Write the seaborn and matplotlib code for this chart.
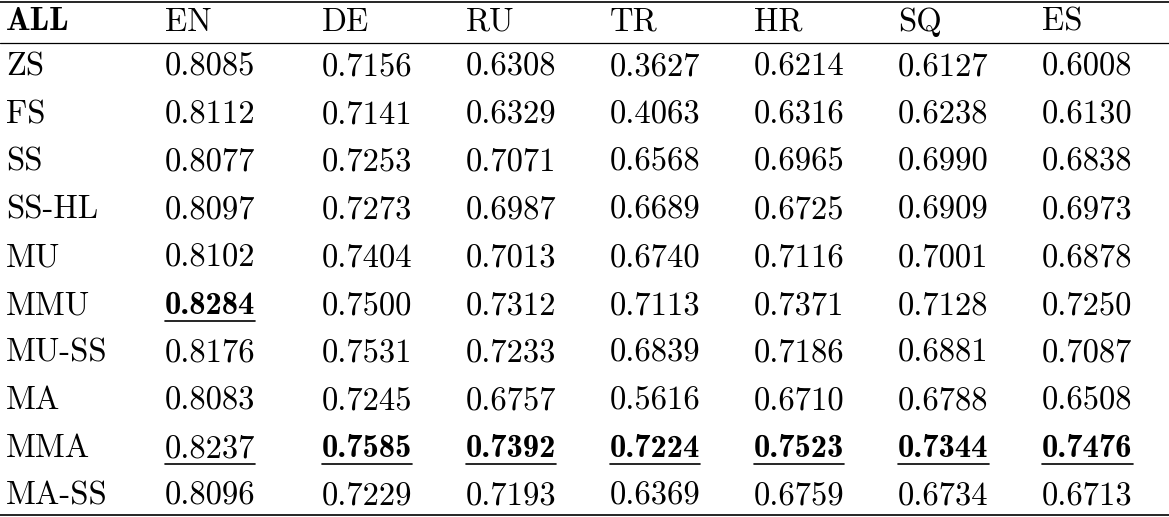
import matplotlib
matplotlib.use("Agg")
import matplotlib.pyplot as plt
import seaborn as sns

sns.set_theme(style="white")
plt.rcParams['font.family'] = ['cmr10', 'DejaVu Serif']

columns = ["EN", "DE", "RU", "TR", "HR", "SQ", "ES"]
methods = ["ZS", "FS", "SS", "SS-HL", "MU", "MMU", "MU-SS", "MA", "MMA", "MA-SS"]
scores = [
    [0.8085, 0.7156, 0.6308, 0.3627, 0.6214, 0.6127, 0.6008],
    [0.8112, 0.7141, 0.6329, 0.4063, 0.6316, 0.6238, 0.6130],
    [0.8077, 0.7253, 0.7071, 0.6568, 0.6965, 0.6990, 0.6838],
    [0.8097, 0.7273, 0.6987, 0.6689, 0.6725, 0.6909, 0.6973],
    [0.8102, 0.7404, 0.7013, 0.6740, 0.7116, 0.7001, 0.6878],
    [0.8284, 0.7500, 0.7312, 0.7113, 0.7371, 0.7128, 0.7250],
    [0.8176, 0.7531, 0.7233, 0.6839, 0.7186, 0.6881, 0.7087],
    [0.8083, 0.7245, 0.6757, 0.5616, 0.6710, 0.6788, 0.6508],
    [0.8237, 0.7585, 0.7392, 0.7224, 0.7523, 0.7344, 0.7476],
    [0.8096, 0.7229, 0.7193, 0.6369, 0.6759, 0.6734, 0.6713],
]
# best per column (bold + underline), second best (underline)
best_rows = [5, 8, 8, 8, 8, 8, 8]
second_rows = [8, None, None, None, None, None, None]

W, H = 1169, 517
fig = plt.figure(figsize=(W / 100, H / 100), dpi=100)
ax = fig.add_axes([0, 0, 1, 1])
ax.set_xlim(0, W)
ax.set_ylim(H, 0)
ax.axis("off")

col_x = [6, 165, 322, 466, 610, 754, 898, 1042]
header_y = 22
row0_y = 67
row_step = 47.7
fs = 23.5

ax.plot([0, W], [2, 2], color="black", lw=1.2)
ax.plot([0, W], [43, 43], color="black", lw=0.9)
ax.plot([0, W], [515, 515], color="black", lw=1.2)

ax.text(col_x[0], header_y, "ALL", fontsize=fs, fontfamily="cmb10", va="center", color="black")
for j, c in enumerate(columns):
    ax.text(col_x[j + 1], header_y, c, fontsize=fs, va="center", color="black")

fig.canvas.draw()
renderer = fig.canvas.get_renderer()
inv = ax.transData.inverted()

for i, m in enumerate(methods):
    y = row0_y + i * row_step
    ax.text(col_x[0], y, m, fontsize=fs, va="center", color="black")
    for j, v in enumerate(scores[i]):
        bold = best_rows[j] == i
        under = bold or second_rows[j] == i
        t = ax.text(col_x[j + 1], y, f"{v:.4f}", fontsize=fs, va="center", color="black",
                    fontfamily="cmb10" if bold else "cmr10")
        if under:
            bb = t.get_window_extent(renderer)
            (x0, _), (x1, _) = inv.transform([(bb.x0, bb.y0), (bb.x1, bb.y0)])
            ax.plot([x0, x1], [y + 15, y + 15], color="black", lw=1.2)

fig.savefig("out.png", dpi=100)
